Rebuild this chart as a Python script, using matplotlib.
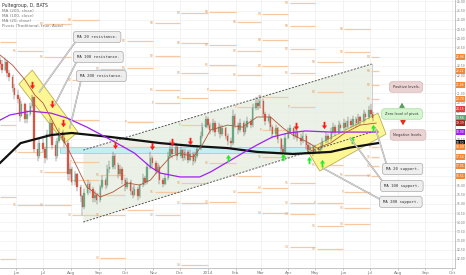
import matplotlib
matplotlib.use("Agg")
import matplotlib.pyplot as plt
import matplotlib.dates as mdates
import numpy as np
import pandas as pd
from matplotlib.patches import Polygon, Rectangle
from matplotlib.path import Path

# ---------------- data ----------------
closes = [22.6, 22.3, 22.7, 22.1, 21.9, 21.3, 20.9, 20.7, 19.8, 20.4,
          19.6, 19.9, 20.3, 20.8, 18.0, 17.6, 18.3, 18.0, 17.5, 18.8,
          19.4, 18.2, 17.6, 18.4, 18.9, 18.6, 18.3, 16.6, 16.9, 16.2,
          16.6, 15.9, 15.4, 14.8, 15.6, 16.1, 15.8, 15.3, 15.5, 15.2,
          15.9, 16.3, 16.0, 16.9, 17.0, 17.6, 17.1, 16.6, 16.9, 16.3,
          15.9, 16.2, 15.7, 15.5, 15.8, 15.4, 16.0, 16.4, 16.2, 17.0,
          17.5, 17.2, 16.8, 17.0, 16.3, 16.1, 16.4, 17.6, 18.0, 17.7,
          18.1, 17.6, 17.9, 17.5, 17.8, 17.4, 17.7, 17.3, 17.6, 18.0,
          18.7, 19.2, 19.6, 19.3, 19.0, 19.4, 18.9, 19.2, 18.8, 19.1,
          18.7, 18.4, 18.3, 19.8, 19.3, 19.0, 19.4, 18.9, 19.2, 19.5,
          19.3, 20.2, 20.5, 20.3, 20.6, 19.9, 19.5, 19.7, 19.2, 18.8,
          19.1, 18.5, 18.0, 17.8, 18.6, 18.9, 19.1, 18.7, 18.9, 18.6,
          18.4, 18.7, 18.2, 17.9, 18.1, 17.8, 18.0, 17.9, 18.1, 18.4,
          18.7, 18.5, 18.9, 19.2, 18.9, 19.3, 19.1, 19.4, 19.2, 19.5,
          19.3, 19.6, 19.4, 19.7, 19.5, 19.9, 19.7, 20.1, 19.9, 19.66]
first_open = 22.8
highs = [23.0, 22.8, 22.9, 22.8, 22.3, 22.0, 21.5, 21.2, 20.8, 20.6,
         20.5, 20.1, 20.5, 20.9, 20.8, 18.3, 18.5, 18.6, 18.1, 19.0,
         19.6, 19.5, 18.4, 18.6, 19.1, 19.0, 18.8, 18.4, 17.2, 17.0,
         16.8, 16.7, 16.0, 15.5, 15.8, 16.3, 16.2, 15.9, 15.7, 15.6,
         16.0, 16.5, 16.4, 17.1, 17.3, 17.8, 17.7, 17.2, 17.1, 17.0,
         16.4, 16.4, 16.3, 15.9, 16.0, 15.9, 16.1, 16.6, 16.5, 17.2,
         17.8, 17.6, 17.3, 17.2, 17.1, 16.4, 16.6, 17.8, 18.4, 18.2,
         18.3, 18.2, 18.1, 18.0, 18.0, 17.9, 17.9, 17.8, 17.8, 18.2,
         18.9, 19.4, 19.8, 19.7, 19.4, 19.6, 19.5, 19.4, 19.3, 19.3,
         19.2, 18.8, 18.6, 20.1, 19.9, 19.4, 19.6, 19.5, 19.4, 19.7,
         19.6, 20.4, 20.8, 20.7, 20.9, 20.7, 20.0, 19.9, 19.8, 19.3,
         19.3, 19.2, 18.6, 18.2, 18.8, 19.1, 19.3, 19.2, 19.1, 19.0,
         18.8, 18.9, 18.8, 18.3, 18.3, 18.2, 18.2, 18.1, 18.3, 18.6,
         18.9, 18.8, 19.1, 19.4, 19.3, 19.5, 19.4, 19.6, 19.5, 19.7,
         19.6, 19.8, 19.7, 19.9, 19.8, 20.1, 20.0, 20.3, 20.4, 20.0]
lows = [22.4, 22.1, 22.2, 21.9, 21.7, 21.1, 20.7, 20.5, 19.5, 19.7,
        19.4, 19.4, 19.8, 20.2, 17.8, 17.3, 17.5, 17.8, 17.2, 17.4,
        18.6, 18.0, 17.3, 17.5, 18.3, 18.4, 18.1, 16.3, 16.4, 16.0,
        16.0, 15.7, 15.1, 14.4, 14.7, 15.5, 15.6, 15.1, 15.1, 15.0,
        15.1, 15.8, 15.8, 15.9, 16.7, 16.9, 16.9, 16.4, 16.5, 16.1,
        15.7, 15.8, 15.5, 15.3, 15.4, 15.2, 15.3, 15.9, 16.0, 16.1,
        16.9, 17.0, 16.6, 16.7, 16.1, 15.9, 16.0, 16.3, 17.5, 17.5,
        17.6, 17.4, 17.5, 17.3, 17.4, 17.2, 17.3, 17.1, 17.2, 17.5,
        17.9, 18.6, 19.1, 19.1, 18.8, 18.9, 18.7, 18.8, 18.6, 18.7,
        18.5, 18.2, 18.0, 18.2, 19.1, 18.8, 18.9, 18.7, 18.8, 19.1,
        19.1, 19.2, 20.1, 20.1, 20.2, 19.7, 19.3, 19.4, 19.0, 18.6,
        18.7, 18.3, 17.8, 17.4, 17.7, 18.5, 18.8, 18.5, 18.6, 18.4,
        18.2, 18.3, 18.0, 17.7, 17.8, 17.6, 17.7, 17.7, 17.8, 18.0,
        18.3, 18.3, 18.4, 18.8, 18.7, 18.8, 18.9, 19.0, 19.0, 19.1,
        19.1, 19.2, 19.2, 19.3, 19.3, 19.4, 19.5, 19.6, 19.8, 19.5]

ma200_dates = ["2013-05-14", "2013-06-06", "2013-07-10", "2013-08-02", "2013-09-15",
               "2013-11-09", "2013-12-16", "2014-01-23", "2014-02-25", "2014-04-06",
               "2014-05-18", "2014-06-08", "2014-07-10"]
ma200_vals = [17.22, 18.30, 18.74, 18.85, 18.63, 18.30, 18.14, 18.03, 17.82, 17.71,
              17.82, 18.05, 18.30]
ma100_dates = ["2013-05-14", "2013-05-25", "2013-06-17", "2013-07-10", "2013-07-28",
               "2013-08-19", "2013-09-15", "2013-10-11", "2013-10-29", "2013-11-09",
               "2013-12-01", "2013-12-23", "2014-01-04", "2014-01-23", "2014-02-09",
               "2014-02-25", "2014-03-14", "2014-04-01", "2014-04-20", "2014-05-18",
               "2014-07-10"]
ma100_vals = [19.55, 19.83, 20.04, 19.93, 19.66, 19.17, 18.47, 17.76, 17.00, 16.67,
              16.46, 16.46, 16.73, 17.27, 17.76, 18.20, 18.63, 18.85, 18.96, 18.90,
              18.90]
ma20_dates = ["2013-05-14", "2013-05-28", "2013-06-11", "2013-06-22", "2013-07-01",
              "2013-07-17", "2013-07-28", "2013-08-08", "2013-08-19", "2013-09-03",
              "2013-09-17", "2013-10-03", "2013-10-17", "2013-10-29", "2013-11-09",
              "2013-11-20", "2013-12-01", "2013-12-16", "2013-12-27", "2014-01-04",
              "2014-01-23", "2014-02-09", "2014-02-25", "2014-03-12", "2014-03-26",
              "2014-04-06", "2014-04-22", "2014-05-03", "2014-05-18", "2014-06-03",
              "2014-06-20", "2014-07-08"]
ma20_vals = [23.09, 22.54, 21.73, 20.91, 20.48, 19.01, 18.09, 17.00, 15.91, 15.37,
             15.64, 16.13, 16.02, 16.29, 16.95, 17.54, 17.76, 17.54, 18.30, 19.01,
             19.28, 19.17, 19.72, 19.72, 19.12, 18.74, 18.36, 18.03, 18.30, 18.85,
             19.28, 19.39]

# monthly pivot levels (traditional pivots)
pivot_months = ["2013-05-01", "2013-06-01", "2013-07-01", "2013-08-01", "2013-09-01",
                "2013-10-01", "2013-11-01", "2013-12-01", "2014-01-01", "2014-02-01",
                "2014-03-01", "2014-04-01", "2014-05-01", "2014-06-01", "2014-07-01"]
pivot_levels = [
    [23.79, 19.28, 15.37, 12.00],
    [23.30, 17.82, 14.93],
    [24.77, 22.98, 18.09, 16.73, 14.93],
    [24.99, 21.73, 19.55, 17.27, 16.29, 14.39],
    [22.33, 16.57, 15.48, 14.39, 12.05],
    [23.85, 22.38, 19.45, 18.09, 14.66],
    [24.83, 23.03, 21.18, 20.48, 15.64, 14.39],
    [25.37, 23.74, 22.11, 20.75, 19.28, 16.13, 15.04, 11.67],
    [25.42, 23.63, 22.54, 21.18, 17.22, 15.10],
    [24.88, 23.30, 22.00, 20.26, 16.51, 15.64],
    [25.32, 23.90, 22.49, 20.80, 19.01, 17.54, 15.86, 14.50],
    [25.91, 24.66, 23.41, 22.11, 20.26, 16.13, 15.04, 14.45, 12.65],
    [22.71, 21.08, 17.11, 15.04, 13.79, 12.54],
    [24.50, 23.25, 16.57, 15.64, 14.77, 13.90],
    [22.98, 22.22, 21.46, 20.70, 18.09, 17.54, 17.05, 16.51],
]
pivot_end = "2014-07-11"

# trend channel and zones
chan_dates = ["2013-08-15", "2014-07-10"]
chan_low = [14.01, 19.01]
chan_up_dates = ["2013-08-15", "2014-07-03"]
chan_up = [17.92, 22.60]
band_dates = ["2013-07-20", "2014-05-06"]
band_prices = [17.76, 18.09]
tri1_dates = ["2013-06-04", "2013-06-19", "2013-08-09", "2013-07-25"]
tri1_prices = [21.51, 22.27, 18.90, 18.30]
tri2_dates = ["2014-04-22", "2014-07-10", "2014-07-19", "2014-05-06"]
tri2_prices = [17.92, 19.93, 18.79, 16.78]

red_arrow_dates = ["2013-06-19", "2013-07-11", "2013-07-23", "2013-09-19", "2013-10-31",
                   "2013-11-22", "2013-12-12", "2014-04-10", "2014-05-11"]
red_arrow_prices = [21.46, 20.42, 19.39, 18.20, 18.14, 18.36, 18.41, 19.23, 19.28]
green_arrow_dates = ["2014-01-24", "2014-03-26", "2014-04-24", "2014-05-09", "2014-06-11",
                     "2014-07-04"]
green_arrow_prices = [17.49, 17.54, 17.38, 17.22, 18.47, 19.12]

axis_labels = [(22.98, "#f0883a"), (22.22, "#f0883a"), (21.46, "#f0883a"), (20.70, "#f0883a"),
               (20.15, "#e0403a"), (19.66, "#5ea878"), (19.39, "#a0281e"), (18.90, "#a020f0"),
               (18.30, "#111111"), (18.09, "#f0883a"), (17.54, "#f0883a"), (17.05, "#f0883a"),
               (16.51, "#f0883a")]

month_ticks = ["2013-06-01", "2013-07-01", "2013-08-01", "2013-09-01", "2013-10-01",
               "2013-11-01", "2013-12-01", "2014-01-01", "2014-02-01", "2014-03-01",
               "2014-04-01", "2014-05-01", "2014-06-01", "2014-07-01", "2014-08-01",
               "2014-09-01", "2014-10-01"]
month_labels = ["Jun", "Jul", "Aug", "Sep", "Oct", "Nov", "Dec", "2014", "Feb", "Mar",
                "Apr", "May", "Jun", "Jul", "Aug", "Sep", "Oct"]

# ---------------- figure ----------------
W, H = 466, 275
AXR = 455
AXB = 7
fig = plt.figure(figsize=(W / 100, H / 100), dpi=100)
fig.patch.set_facecolor("white")
ax = fig.add_axes([0, AXB / H, AXR / W, 1 - AXB / H])
ax.set_facecolor("white")
AH = H - AXB

YMIN, YMAX = 11.51, 26.08
d = lambda s: mdates.date2num(pd.Timestamp(s))
ax.set_xlim(d("2013-05-14"), d("2014-10-04"))
ax.set_ylim(YMIN, YMAX)

# grid
for t in month_ticks:
    ax.axvline(d(t), color="#f0f0f0", lw=0.6, zorder=0)
for v in np.arange(12.0, 26.01, 0.5):
    ax.axhline(v, color="#f3f3f3", lw=0.6, zorder=0)

# channel fill and lines
cx0, cx1 = d(chan_dates[0]), d(chan_up_dates[1])
def lowline(x):
    return np.interp(x, [d(chan_dates[0]), d(chan_dates[1])], chan_low)
ax.add_patch(Polygon([(cx0, chan_up[0]), (cx1, chan_up[1]), (cx1, lowline(cx1)), (cx0, chan_low[0])],
                     closed=True, facecolor="#e6eee0", edgecolor="none", alpha=0.8, zorder=1))
ax.plot([d(x) for x in chan_dates], chan_low, color="#555555", lw=0.7, ls=(0, (2, 1.5)), zorder=5)
ax.plot([d(x) for x in chan_up_dates], chan_up, color="#555555", lw=0.7, ls=(0, (2, 1.5)), zorder=5)
ax.plot([cx1, cx1], [lowline(cx1), chan_up[1]], color="#bbbbbb", lw=0.5, zorder=2)

# cyan band
ax.add_patch(Rectangle((d(band_dates[0]), band_prices[0]), d(band_dates[1]) - d(band_dates[0]),
                       band_prices[1] - band_prices[0], facecolor="#c4eef0", edgecolor="#7fd3d8",
                       lw=0.5, zorder=2))

# yellow zones
for dts, prs in [(tri1_dates, tri1_prices), (tri2_dates, tri2_prices)]:
    ax.add_patch(Polygon([(d(a), b) for a, b in zip(dts, prs)], closed=True,
                         facecolor="#fdf68a", edgecolor="#b5a642", lw=0.6, alpha=0.9, zorder=3))

# pivots
xstart = d("2013-05-14")
for i, (m, lv) in enumerate(zip(pivot_months, pivot_levels)):
    x0 = d(m)
    x1 = d(pivot_months[i + 1]) if i + 1 < len(pivot_months) else d(pivot_end)
    first = x0 < xstart
    x0v = max(x0, xstart)
    n = len(lv)
    mid = n // 2
    for k, v in enumerate(lv):
        name = "R%d" % (mid - k) if k < mid else ("P" if k == mid else "S%d" % (k - mid))
        ax.plot([x0v + (0 if first else 1.5), x1], [v, v], color="#f5c9a4", lw=0.9, zorder=2,
                solid_capstyle="butt")
        if not first:
            ax.text(x0v + 0.8, v, name, fontsize=2.2, color="#e59a5a", ha="right", va="center",
                    zorder=2)

# candles
dates = pd.bdate_range("2013-05-14", periods=2 * len(closes))[::2]
xs = mdates.date2num(dates)
opens = [first_open] + closes[:-1]
for x, o, h, l, c in zip(xs, opens, highs, lows, closes):
    col = "#6ba583" if c >= o else "#d75442"
    ax.plot([x, x], [l, h], color="#5a5a5a", lw=0.35, zorder=6)
    ax.add_patch(Rectangle((x - 0.8, min(o, c)), 1.6, max(abs(c - o), 0.03),
                           facecolor=col, edgecolor=col, lw=0.2, zorder=7))

# moving averages
ax.plot([d(x) for x in ma200_dates], ma200_vals, color="#111111", lw=1.6, zorder=8)
ax.plot([d(x) for x in ma100_dates], ma100_vals, color="#a020f0", lw=0.9, zorder=8)
ax.plot([d(x) for x in ma20_dates], ma20_vals, color="#b0553a", lw=0.6, zorder=8)

# arrows
up_arrow = Path([(-0.25, -1), (0.25, -1), (0.25, 0), (0.7, 0), (0, 1), (-0.7, 0), (-0.25, 0), (-0.25, -1)],
                [Path.MOVETO] + [Path.LINETO] * 6 + [Path.CLOSEPOLY])
down_arrow = Path([(-0.25, 1), (0.25, 1), (0.25, 0), (0.7, 0), (0, -1), (-0.7, 0), (-0.25, 0), (-0.25, 1)],
                  [Path.MOVETO] + [Path.LINETO] * 6 + [Path.CLOSEPOLY])
ax.scatter([d(x) for x in red_arrow_dates], red_arrow_prices, marker=down_arrow, s=28,
           color="#ff1a1a", zorder=10, linewidths=0)
ax.scatter([d(x) for x in green_arrow_dates], green_arrow_prices, marker=up_arrow, s=28,
           color="#22ee22", zorder=10, linewidths=0)

# axes styling
yt = np.arange(12.0, 26.01, 0.5)
ax.yaxis.tick_right()
ax.set_yticks(yt)
ax.set_yticklabels(["%.2f" % v for v in yt], fontsize=2.2, color="#777777")
ax.set_xticks([d(t) for t in month_ticks])
ax.set_xticklabels(month_labels, fontsize=3, color="#777777")
ax.tick_params(axis="x", length=1.2, width=0.4, pad=1, colors="#999999")
ax.tick_params(axis="y", length=0.8, width=0.4, pad=0.5, colors="#999999")
for lab in ax.get_xticklabels() + ax.get_yticklabels():
    lab.set_color("#777777")
for s in ["top", "left"]:
    ax.spines[s].set_visible(False)
for s in ["right", "bottom"]:
    ax.spines[s].set_color("#bbbbbb")
    ax.spines[s].set_linewidth(0.6)

# right axis value labels
for v, col in axis_labels:
    ax.text(1.0025, (v - YMIN) / (YMAX - YMIN), "%.2f" % v, transform=ax.transAxes,
            fontsize=2.2, color="white", ha="left", va="center", zorder=20, clip_on=False,
            bbox=dict(boxstyle="square,pad=0.2", facecolor=col, edgecolor="none"))

# header legend
def axfrac(px, py):
    return (px / AXR, 1 - py / AH)

ax.text(*axfrac(2, 5), "Pultegroup, D, BATS", transform=ax.transAxes, fontsize=3.3,
        color="#333333", va="center", ha="left", zorder=20)
for k, t in enumerate(["MA (200, close)", "MA (100, close)", "MA (20, close)",
                       "Pivots (Traditional, true, Auto)"]):
    ax.text(*axfrac(2, 11 + 5 * k), t, transform=ax.transAxes, fontsize=3.0,
            color="#777777", va="center", ha="left", zorder=20)

# callouts
callouts = [("MA 20 resistance.", (77, 37), (d("2013-06-27"), 21.08)),
            ("MA 100 resistance.", (77, 57), (d("2013-07-14"), 20.37)),
            ("MA 200 resistance.", (80, 76), (d("2013-07-31"), 19.12)),
            ("MA 20 support.", (386, 169), (d("2014-07-07"), 19.12)),
            ("MA 100 support.", (384, 186), (d("2014-06-09"), 18.58)),
            ("MA 200 support.", (383, 202), (d("2014-05-09"), 16.95))]
for text, (px, py), target in callouts:
    for lw, col in [(1.1, "#9a9a9a"), (0.4, "#f4f4f4")]:
        ax.annotate("", xy=target, xycoords="data", xytext=axfrac(px + 2, py),
                    textcoords="axes fraction",
                    arrowprops=dict(arrowstyle="-", color=col, lw=lw, shrinkA=0, shrinkB=0),
                    zorder=14)
    ax.text(*axfrac(px, py), text, transform=ax.transAxes,
            fontsize=2.8, family="DejaVu Sans Mono", color="#333333", ha="left", va="center",
            bbox=dict(boxstyle="round,pad=0.9,rounding_size=0.6", facecolor="#eeeeee",
                      edgecolor="#aaaaaa", lw=0.5),
            zorder=15)

for text, (px, py), fc, ec in [("Positive levels.", (406, 87), "#ecd3d3", "#d8b4b4"),
                               ("Zero level of pivot.", (402, 114), "#d4f5d0", "#a8dca0"),
                               ("Negative levels.", (408, 135), "#ecd3d3", "#d8b4b4")]:
    ax.text(*axfrac(px, py), text, transform=ax.transAxes, fontsize=2.6, color="#333333",
            ha="center", va="center", zorder=15,
            bbox=dict(boxstyle="round,pad=0.9,rounding_size=0.8", facecolor=fc, edgecolor=ec, lw=0.5))
ax.annotate("", xy=axfrac(402, 100), xytext=axfrac(402, 109), xycoords="axes fraction",
            textcoords="axes fraction",
            arrowprops=dict(arrowstyle="-|>,head_width=0.15,head_length=0.25", color="#5aa060", lw=0.9))
ax.annotate("", xy=axfrac(403, 128), xytext=axfrac(403, 120), xycoords="axes fraction",
            textcoords="axes fraction",
            arrowprops=dict(arrowstyle="-|>,head_width=0.15,head_length=0.25", color="#e03020", lw=0.9))

fig.savefig("out.png", dpi=100, facecolor="white")
